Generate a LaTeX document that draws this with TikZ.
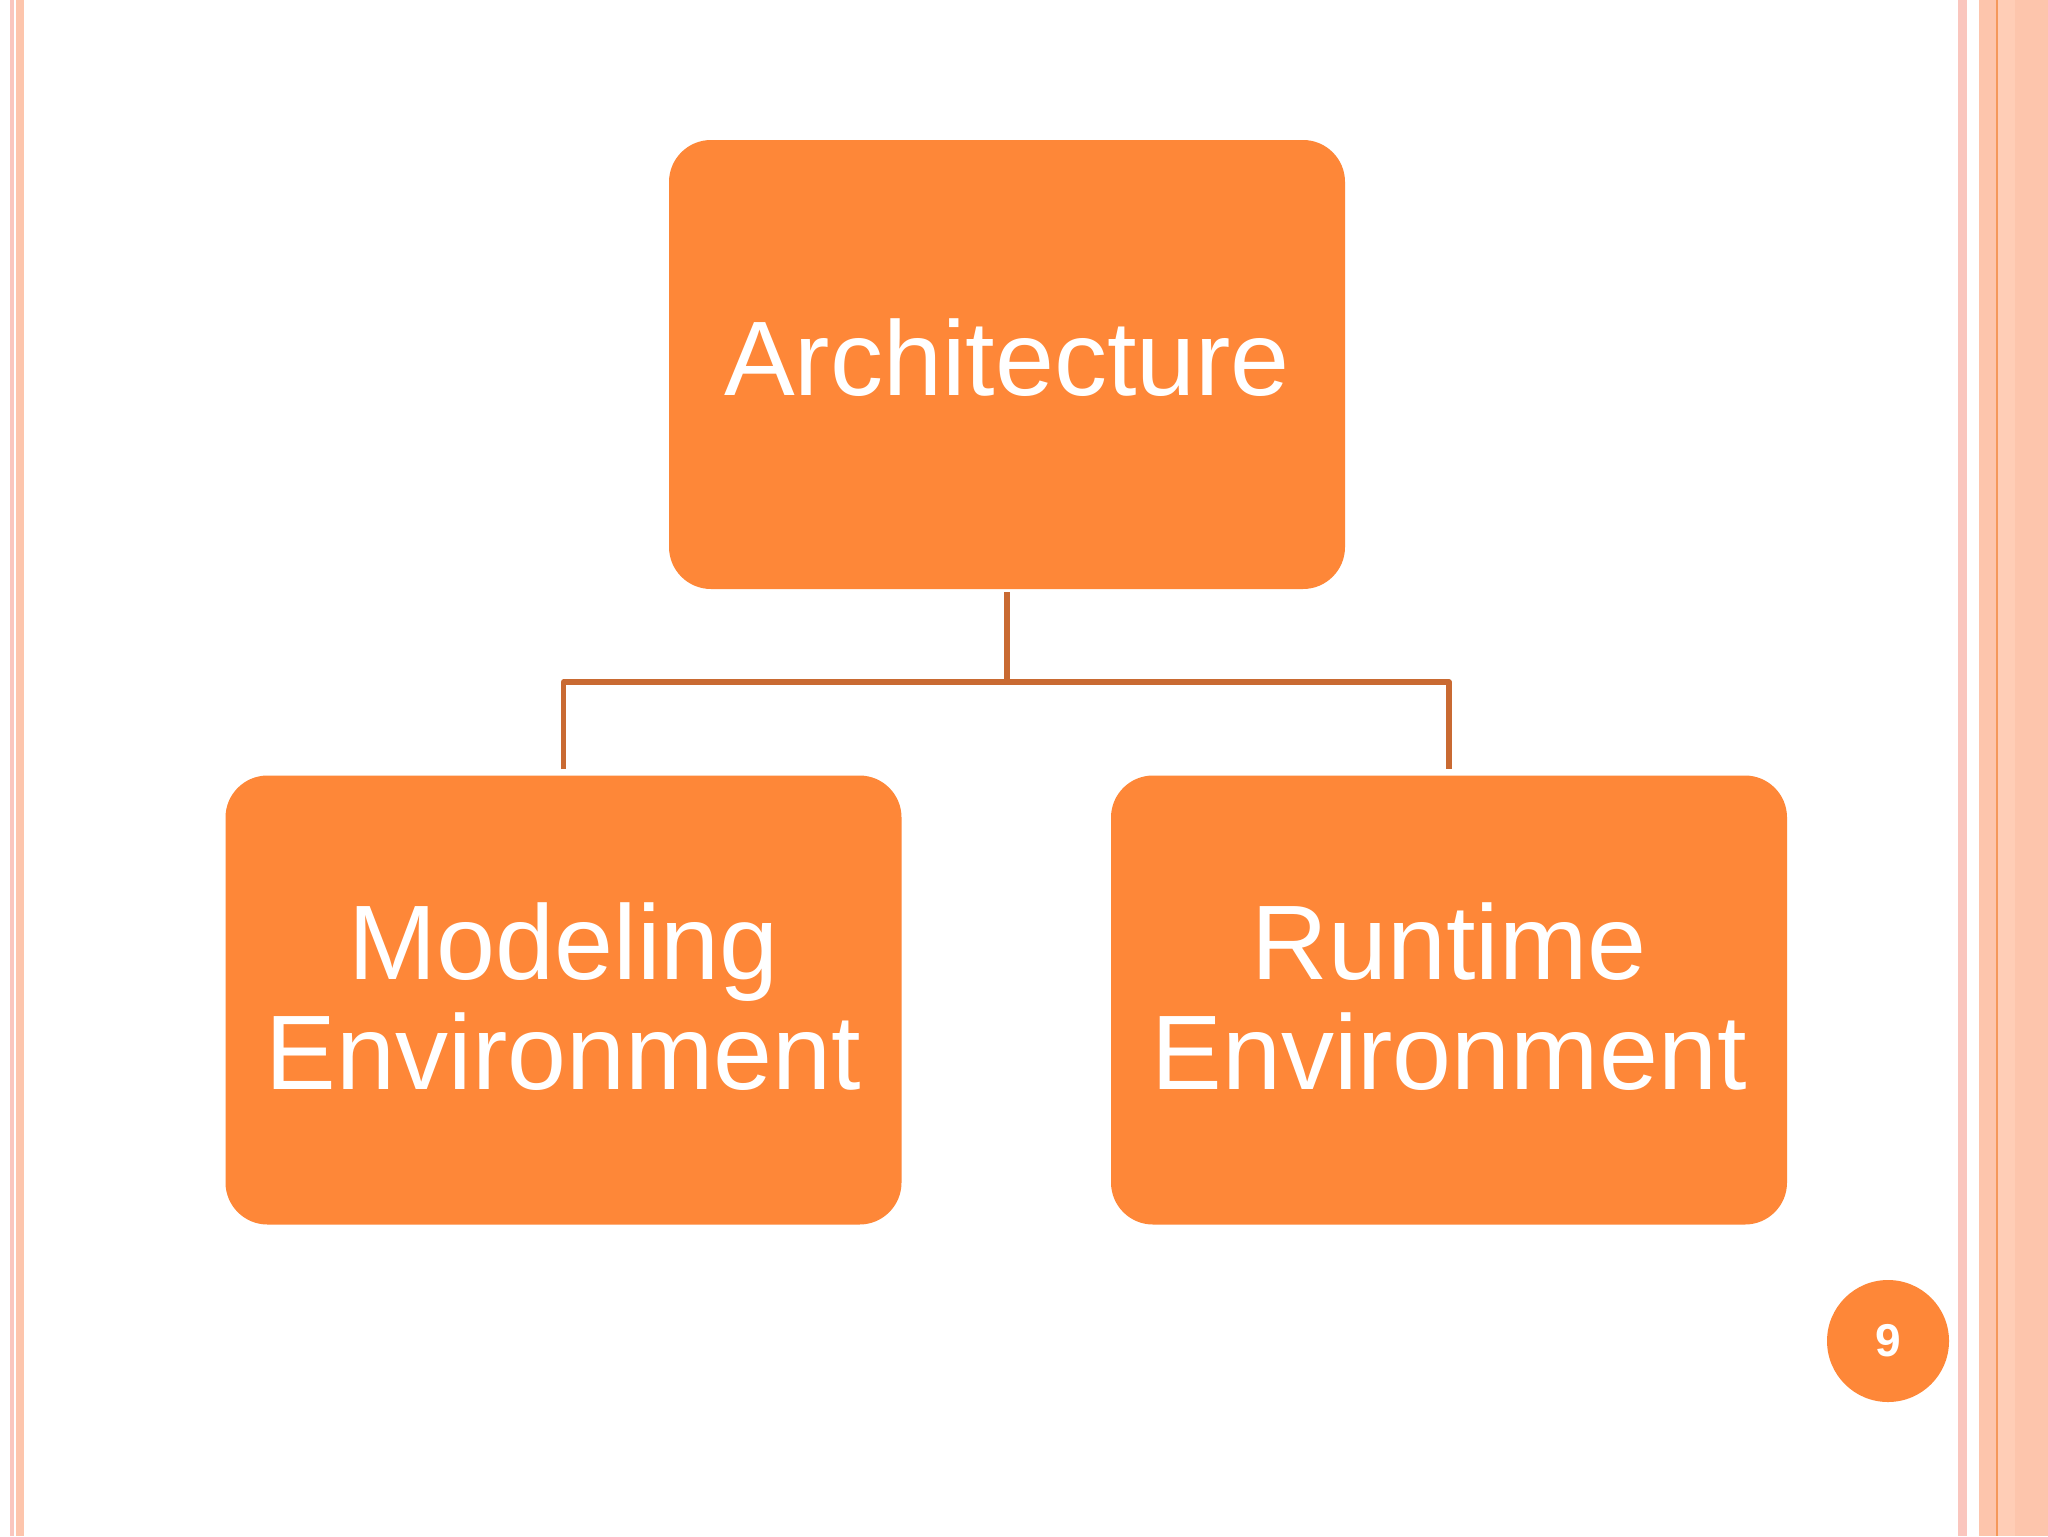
\documentclass[tikz,border=0pt]{standalone}
\usepackage{fontspec}
\setmainfont{Liberation Sans}
\definecolor{boxfill}{HTML}{FE8738}
\definecolor{connc}{HTML}{C96A32}
\definecolor{pinkst}{HTML}{FAC6BE}
\definecolor{peachst}{HTML}{FDC5AC}
\definecolor{peachlt}{HTML}{FFCDB6}
\definecolor{orline}{HTML}{F5985A}
\newcommand{\liftup}[2]{\raisebox{#1}[\height][\depth]{#2}}
\tikzset{
  box/.style={rectangle, rounded corners=21pt, fill=boxfill, draw=none, text=white,
    minimum width=338pt, minimum height=224.5pt, inner sep=0pt, align=center,
    font=\fontsize{53}{55}\selectfont},
  conn/.style={draw=connc, line width=2.6pt, line join=round},
  pagenum/.style={circle, fill=boxfill, text=white, minimum size=61pt, inner sep=0pt,
    font=\fontsize{23}{24}\selectfont\bfseries},
}
\begin{document}
\begin{tikzpicture}[x=0.5pt,y=-0.5pt]
\useasboundingbox[fill=white] (0,0) rectangle (2048,1536);
% side stripes
\fill[pinkst] (10,0) rectangle (13.5,1536);
\fill[peachst] (16,0) rectangle (23.5,1536);
\fill[pinkst] (1958,0) rectangle (1967,1536);
\fill[peachst] (1979,0) rectangle (1996,1536);
\fill[orline] (1996,0) rectangle (1998,1536);
\fill[peachlt] (1998,0) rectangle (2015,1536);
\fill[peachst] (2015,0) rectangle (2048,1536);
% boxes
\node[box] (top) at (1007,364.5) {\liftup{3.2pt}{Architecture}};
\node[box] (left) at (563.5,1000) {\liftup{-6pt}{\begin{tabular}{@{}c@{}}Modeling\\Environment\end{tabular}}};
\node[box] (right) at (1449,1000) {\liftup{-6pt}{\begin{tabular}{@{}c@{}}Runtime\\Environment\end{tabular}}};
% connectors
\coordinate (j) at (1007,682);
\draw[conn] ([yshift=-1.5pt]top.south) -- (j);
\draw[conn] ([yshift=3pt]left.north) |- (j) -| ([yshift=3pt]right.north);
% page number
\node[pagenum] (pn) at (1888,1341) {9};
\end{tikzpicture}
\end{document}
